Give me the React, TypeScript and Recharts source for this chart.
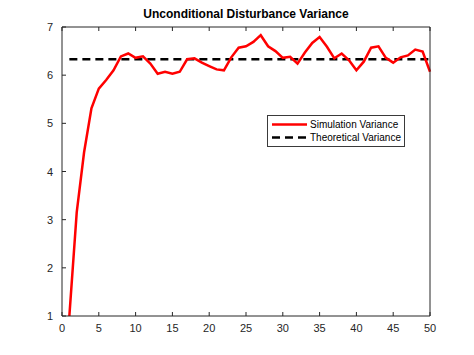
import { LineChart, Line, XAxis, YAxis } from "recharts";

const steps = [
  1, 2, 3, 4, 5, 6, 7, 8, 9, 10, 11, 12, 13, 14, 15, 16, 17, 18, 19, 20, 21, 22, 23, 24, 25,
  26, 27, 28, 29, 30, 31, 32, 33, 34, 35, 36, 37, 38, 39, 40, 41, 42, 43, 44, 45, 46, 47, 48, 49, 50,
];

const simulationVariance = [
  1.0, 3.15, 4.4, 5.31, 5.72, 5.9, 6.1, 6.39, 6.45, 6.36, 6.39, 6.24, 6.03, 6.07, 6.03, 6.07, 6.33,
  6.35, 6.26, 6.19, 6.12, 6.1, 6.37, 6.57, 6.6, 6.69, 6.83, 6.6, 6.5, 6.36, 6.38, 6.24, 6.47, 6.67,
  6.79, 6.59, 6.35, 6.45, 6.31, 6.1, 6.28, 6.57, 6.6, 6.36, 6.26, 6.37, 6.41, 6.53, 6.49, 6.07,
];

const theoreticalVariance = 6.33;

const xTicks = [0, 5, 10, 15, 20, 25, 30, 35, 40, 45, 50];
const yTicks = [1, 2, 3, 4, 5, 6, 7];

const data = steps.map((s, i) => ({
  step: s,
  sim: simulationVariance[i],
  theo: theoreticalVariance,
}));

const AXIS = "#262626";
const FONT = "'Liberation Sans', Arial, sans-serif";

const BottomTick = (props: any) => {
  const { x, y, payload } = props;
  return (
    <g>
      <line x1={x} x2={x} y1={y} y2={y - 4} stroke={AXIS} />
      <text x={x} y={y + 16} textAnchor="middle" fontSize={11} fill={AXIS} fontFamily={FONT}>
        {payload.value}
      </text>
    </g>
  );
};

const TopTick = (props: any) => {
  const { x, y } = props;
  return <line x1={x} x2={x} y1={y} y2={y + 4} stroke={AXIS} />;
};

const LeftTick = (props: any) => {
  const { x, y, payload } = props;
  return (
    <g>
      <line x1={x} x2={x + 4} y1={y} y2={y} stroke={AXIS} />
      <text x={x - 12} y={y + 4} textAnchor="middle" fontSize={11} fill={AXIS} fontFamily={FONT}>
        {payload.value}
      </text>
    </g>
  );
};

const RightTick = (props: any) => {
  const { x, y } = props;
  return <line x1={x} x2={x - 4} y1={y} y2={y} stroke={AXIS} />;
};

const LegendBox = () => (
  <div
    style={{
      position: "absolute",
      left: 267,
      top: 115,
      border: "1px solid #3a3a3a",
      background: "#fff",
      width: 136,
      padding: "2px 0",
      fontFamily: FONT,
      fontSize: 10,
      color: "#000",
      lineHeight: "13px",
    }}
  >
    <div style={{ display: "flex", alignItems: "center" }}>
      <svg width={42} height={13}>
        <line x1={4} x2={39} y1={6.5} y2={6.5} stroke="#ff0000" strokeWidth={2.5} />
      </svg>
      <span>Simulation Variance</span>
    </div>
    <div style={{ display: "flex", alignItems: "center" }}>
      <svg width={42} height={13}>
        <line x1={4} x2={39} y1={6.5} y2={6.5} stroke="#000" strokeWidth={2.5} strokeDasharray="8 5" />
      </svg>
      <span>Theoretical Variance</span>
    </div>
  </div>
);

export default function App() {
  return (
    <div style={{ position: "absolute", left: 0, top: 0, width: 474, height: 355, background: "#fff" }}>
      <div
        style={{
          position: "absolute",
          left: 62,
          width: 368,
          top: 7,
          textAlign: "center",
          fontFamily: FONT,
          fontWeight: "bold",
          fontSize: 12,
          color: "#000",
        }}
      >
        Unconditional Disturbance Variance
      </div>
      <LineChart width={474} height={355} data={data} margin={{ top: 26, right: 43, bottom: 38, left: 61 }}>
        <XAxis
          xAxisId="b"
          dataKey="step"
          type="number"
          domain={[0, 50]}
          ticks={xTicks}
          tickSize={0}
          tickMargin={0}
          height={1}
          tickLine={false}
          axisLine={{ stroke: AXIS }}
          tick={<BottomTick />}
          interval={0}
        />
        <XAxis
          xAxisId="t"
          orientation="top"
          dataKey="step"
          type="number"
          domain={[0, 50]}
          ticks={xTicks}
          tickSize={0}
          tickMargin={0}
          height={1}
          tickLine={false}
          axisLine={{ stroke: AXIS }}
          tick={<TopTick />}
          interval={0}
        />
        <YAxis
          yAxisId="l"
          type="number"
          domain={[1, 7]}
          ticks={yTicks}
          tickSize={0}
          tickMargin={0}
          width={1}
          tickLine={false}
          axisLine={{ stroke: AXIS }}
          tick={<LeftTick />}
          interval={0}
        />
        <YAxis
          yAxisId="r"
          orientation="right"
          type="number"
          domain={[1, 7]}
          ticks={yTicks}
          tickSize={0}
          tickMargin={0}
          width={1}
          tickLine={false}
          axisLine={{ stroke: AXIS }}
          tick={<RightTick />}
          interval={0}
        />
        <Line
          xAxisId="b"
          yAxisId="l"
          dataKey="theo"
          stroke="#000"
          strokeWidth={2.5}
          strokeDasharray="8 5"
          dot={false}
          isAnimationActive={false}
        />
        <Line
          xAxisId="b"
          yAxisId="l"
          dataKey="sim"
          type="linear"
          stroke="#ff0000"
          strokeWidth={2.5}
          dot={false}
          isAnimationActive={false}
        />
      </LineChart>
      <LegendBox />
    </div>
  );
}
